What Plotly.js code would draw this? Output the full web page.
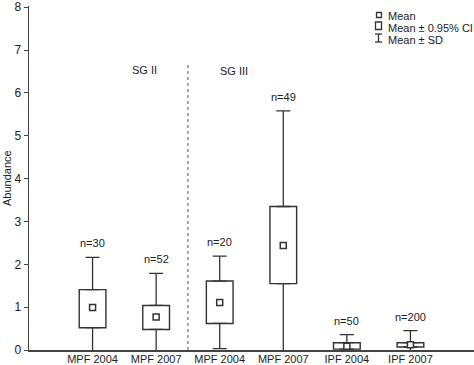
<!DOCTYPE html>
<html><head><meta charset="utf-8">
<script src="https://cdn.plot.ly/plotly-3.0.1.min.js"></script>
<style>html,body{margin:0;padding:0;background:#fff}#c{width:474px;height:365px}</style>
</head><body><div id="c"></div>
<script>
const categories = ["MPF 2004","MPF 2007","MPF 2004","MPF 2007","IPF 2004","IPF 2007"];
const groupLabels = ["SG II","SG III"];
const nLabels = ["n=30","n=52","n=20","n=49","n=50","n=200"];
const means  = [0.99, 0.77, 1.11, 2.44, 0.09, 0.12];
const ciLow  = [0.52, 0.48, 0.62, 1.55, 0.02, 0.07];
const ciHigh = [1.41, 1.04, 1.61, 3.35, 0.17, 0.17];
const sdLow  = [-0.18, -0.25, 0.03, -0.70, -0.18, -0.21];
const sdHigh = [2.16, 1.79, 2.19, 5.58, 0.36, 0.45];
const yTicks = [0,1,2,3,4,5,6,7,8];

const xs = categories.map((c,i)=>i);
const col = '#333';
const font = {family:'Liberation Sans, Arial, sans-serif', color:'#222'};

const traces = [
  {type:'bar', x:xs, base:ciLow, y:ciHigh.map((h,i)=>h-ciLow[i]), width:0.42,
   marker:{color:'#fff', line:{color:col, width:1.4}}, hoverinfo:'skip', showlegend:false},
  {type:'scatter', mode:'markers', x:xs, y:ciHigh, marker:{size:1, opacity:0},
   error_y:{type:'data', symmetric:false, array:sdHigh.map((h,i)=>h-ciHigh[i]), arrayminus:xs.map(()=>0),
   width:7, thickness:1.3, color:col}, showlegend:false, hoverinfo:'skip'},
  {type:'scatter', mode:'markers', x:xs, y:ciLow, marker:{size:1, opacity:0},
   error_y:{type:'data', symmetric:false, array:xs.map(()=>0), arrayminus:ciLow.map((l,i)=>l-sdLow[i]),
   width:7, thickness:1.3, color:col}, showlegend:false, hoverinfo:'skip'},
  {type:'scatter', mode:'markers', x:xs, y:means,
   marker:{symbol:'square', size:6, color:'#fff', line:{color:col, width:1.5}}, showlegend:false}
];

const annotations = [
  {xref:'x', yref:'y', x:0.82, y:6.54, text:groupLabels[0], showarrow:false, font:{...font, size:11}},
  {xref:'x', yref:'y', x:2.22, y:6.52, text:groupLabels[1], showarrow:false, font:{...font, size:11}},
  {xref:'paper', yref:'paper', x:0, xshift:-22, xanchor:'center', yanchor:'middle', y:0.5, text:'Abundance', textangle:-90, showarrow:false, font:{...font, size:11}},
  {xref:'paper', yref:'paper', x:(386-29)/445, y:(350-15)/345, xanchor:'left', yanchor:'middle', text:'Mean', showarrow:false, font:{...font, size:11}},
  {xref:'paper', yref:'paper', x:(386-29)/445, y:(350-27)/345, xanchor:'left', yanchor:'middle', text:'Mean ± 0.95% CI', showarrow:false, font:{...font, size:11}},
  {xref:'paper', yref:'paper', x:(386-29)/445, y:(350-39)/345, xanchor:'left', yanchor:'middle', text:'Mean ± SD', showarrow:false, font:{...font, size:11}}
].concat(nLabels.map((t,i)=>({xref:'x', yref:'y', x:xs[i], y:sdHigh[i], yshift:14, yanchor:'middle',
   text:t, showarrow:false, font:{...font, size:11}})));

function px(x){return (x-29)/445;}
function py(y){return (350-y)/344;}
const lg = {color:col, width:1.3};
const shapes = [
  {type:'line', xref:'x', yref:'y', x0:1.5, x1:1.5, y0:0, y1:6.69, line:{color:'#555', width:1, dash:'dot'}},
  {type:'rect', xref:'paper', yref:'paper', x0:px(376.5), x1:px(381.5), y0:py(17.5), y1:py(12.5), line:{color:col, width:1.3}},
  {type:'rect', xref:'paper', yref:'paper', x0:px(375.5), x1:px(381.5), y0:py(29.5), y1:py(22), line:{color:col, width:1.3}},
  {type:'line', xref:'paper', yref:'paper', x0:px(378.5), x1:px(378.5), y0:py(42), y1:py(34), line:lg},
  {type:'line', xref:'paper', yref:'paper', x0:px(375), x1:px(382), y0:py(34), y1:py(34), line:lg},
  {type:'line', xref:'paper', yref:'paper', x0:px(375), x1:px(382), y0:py(42), y1:py(42), line:lg}
];

const layout = {
  width:474, height:365, margin:{l:29, r:0, t:6, b:15},
  paper_bgcolor:'#fff', plot_bgcolor:'#fff', showlegend:false, font:font,
  xaxis:{range:[-1,6], tickvals:xs, ticktext:categories, showgrid:false, zeroline:false,
         showline:true, linecolor:'#444', linewidth:2, ticks:'', ticklabelstandoff:-2, automargin:false,
         tickfont:{...font, size:11}},
  yaxis:{range:[0,8.03], tickvals:yTicks, showgrid:false, zeroline:false, automargin:false,
         showline:true, linecolor:'#444', linewidth:1.5, ticks:'outside', ticklen:4, tickcolor:'#444',
         tickfont:{...font, size:12}},
  annotations, shapes
};
Plotly.newPlot('c', traces, layout, {staticPlot:true});
</script></body></html>
